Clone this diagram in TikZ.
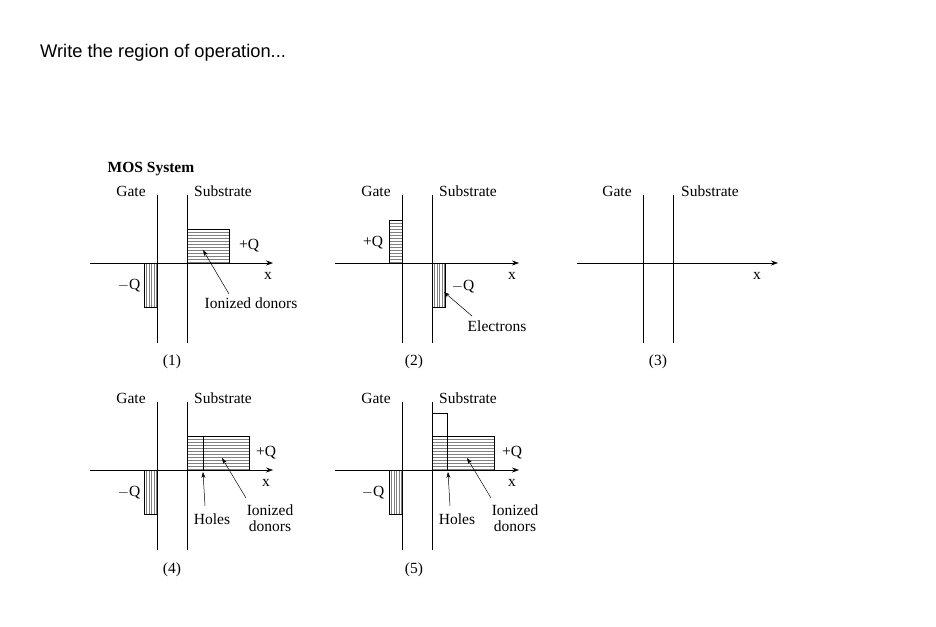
\documentclass[tikz,border=0pt]{standalone}
\usepackage{fontspec}
\usetikzlibrary{arrows.meta}
\setmainfont{Liberation Serif}
\newfontfamily\titlefont{Liberation Sans}
\begin{document}
\begin{tikzpicture}[x=1pt,y=-1pt,
  lab/.style={font=\fontsize{15.5}{16}\selectfont, inner sep=0pt},
  ax/.style={line width=0.6pt,-{Stealth[length=7pt,width=5pt]}},
  wall/.style={line width=0.6pt},
  boxl/.style={line width=0.6pt},
  hat/.style={line width=0.3pt, gray},
  ptr/.style={line width=0.5pt,-{Stealth[length=6pt,width=4pt]}}]
\useasboundingbox[fill=white] (0,0) rectangle (936,626);
\newcommand{\hhatch}[4]{\begin{scope}\clip (#1,#2) rectangle (#3,#4);
  \foreach \k in {0,...,30}{\draw[hat] (#1,#2+3*\k) -- (#3,#2+3*\k);}
  \end{scope}\draw[boxl] (#1,#2) rectangle (#3,#4);}
\newcommand{\vhatch}[4]{\begin{scope}\clip (#1,#2) rectangle (#3,#4);
  \foreach \k in {0,...,10}{\draw[hat] (#1+2.5*\k,#2) -- (#1+2.5*\k,#4);}
  \end{scope}\draw[boxl] (#1,#2) rectangle (#3,#4);}
\node[anchor=west, font=\titlefont\fontsize{18.3}{20}\selectfont, inner sep=0pt] (title) at (40,53) {Write the region of operation...};
% Panel 1
\node[lab,font=\bfseries\fontsize{15.5}{16}\selectfont] (mos) at (151,169) {MOS System};
\node[lab] (g1) at (131,191) {Gate};
\node[lab] (s1) at (223,191) {Substrate};
\draw[ax] (90,263) -- (273,263);
\hhatch{187}{229}{229}{263}
\vhatch{144}{263}{157}{307}
\draw[wall] (157,195) -- (157,343);
\draw[wall] (187,195) -- (187,343);
\node[lab] (pq1) at (249,246) {+Q};
\node[lab] (x1) at (268,276) {x};
\node[lab] (mq1) at (129,286) {$-$Q};
\node[lab] (id1) at (251,303) {Ionized donors};
\coordinate (t1) at (203,250);
\draw[ptr] (229,294) -- (t1);
\node[lab] (n1) at (172,362) {(1)};
% Panel 2
\node[lab] (g2) at (376,191) {Gate};
\node[lab] (s2) at (468,191) {Substrate};
\draw[ax] (335,263) -- (519,263);
\hhatch{389}{220}{402}{263}
\vhatch{432}{263}{445}{307}
\draw[wall] (402,195) -- (402,343);
\draw[wall] (432,195) -- (432,343);
\node[lab] (pq2) at (373,243) {+Q};
\node[lab] (x2) at (512,276) {x};
\node[lab] (mq2) at (463,287) {$-$Q};
\node[lab] (el2) at (497,326) {Electrons};
\coordinate (t2) at (444,292);
\draw[ptr] (472,316) -- (t2);
\node[lab] (n2) at (414,362) {(2)};
% Panel 3
\node[lab] (g3) at (617,191) {Gate};
\node[lab] (s3) at (710,191) {Substrate};
\draw[ax] (577,263) -- (778,263);
\draw[wall] (643,195) -- (643,343);
\draw[wall] (673,195) -- (673,343);
\node[lab] (x3) at (757,276) {x};
\node[lab] (n3) at (658,362) {(3)};
% Panel 4
\node[lab] (g4) at (131,398) {Gate};
\node[lab] (s4) at (223,398) {Substrate};
\draw[ax] (90,470) -- (273,470);
\hhatch{187}{436}{249}{470}
\draw[boxl] (203,436) -- (203,470);
\vhatch{144}{470}{157}{514}
\draw[wall] (157,402) -- (157,550);
\draw[wall] (187,402) -- (187,550);
\node[lab] (pq4) at (266,453) {+Q};
\node[lab] (x4) at (266,483) {x};
\node[lab] (mq4) at (129,493) {$-$Q};
\node[lab] (h4) at (212,519) {Holes};
\node[lab,align=center,font=\fontsize{15.5}{16}\selectfont] (id4) at (270,518) {Ionized\\donors};
\coordinate (th4) at (203,472);
\coordinate (ti4) at (222,458);
\draw[ptr] (205,506) -- (th4);
\draw[ptr] (246,498) -- (ti4);
\node[lab] (n4) at (172,570) {(4)};
% Panel 5
\node[lab] (g5) at (376,398) {Gate};
\node[lab] (s5) at (468,398) {Substrate};
\draw[ax] (335,470) -- (519,470);
\hhatch{432}{436}{494}{470}
\draw[boxl] (432,436) -- (432,413) -- (447,413) -- (447,470);
\vhatch{389}{470}{402}{514}
\draw[wall] (402,402) -- (402,550);
\draw[wall] (432,402) -- (432,550);
\node[lab] (pq5) at (512,453) {+Q};
\node[lab] (x5) at (512,483) {x};
\node[lab] (mq5) at (373,493) {$-$Q};
\node[lab] (h5) at (457,519) {Holes};
\node[lab,align=center,font=\fontsize{15.5}{16}\selectfont] (id5) at (515,518) {Ionized\\donors};
\coordinate (th5) at (448,472);
\coordinate (ti5) at (467,458);
\draw[ptr] (450,506) -- (th5);
\draw[ptr] (491,498) -- (ti5);
\node[lab] (n5) at (414,570) {(5)};
\end{tikzpicture}
\end{document}
